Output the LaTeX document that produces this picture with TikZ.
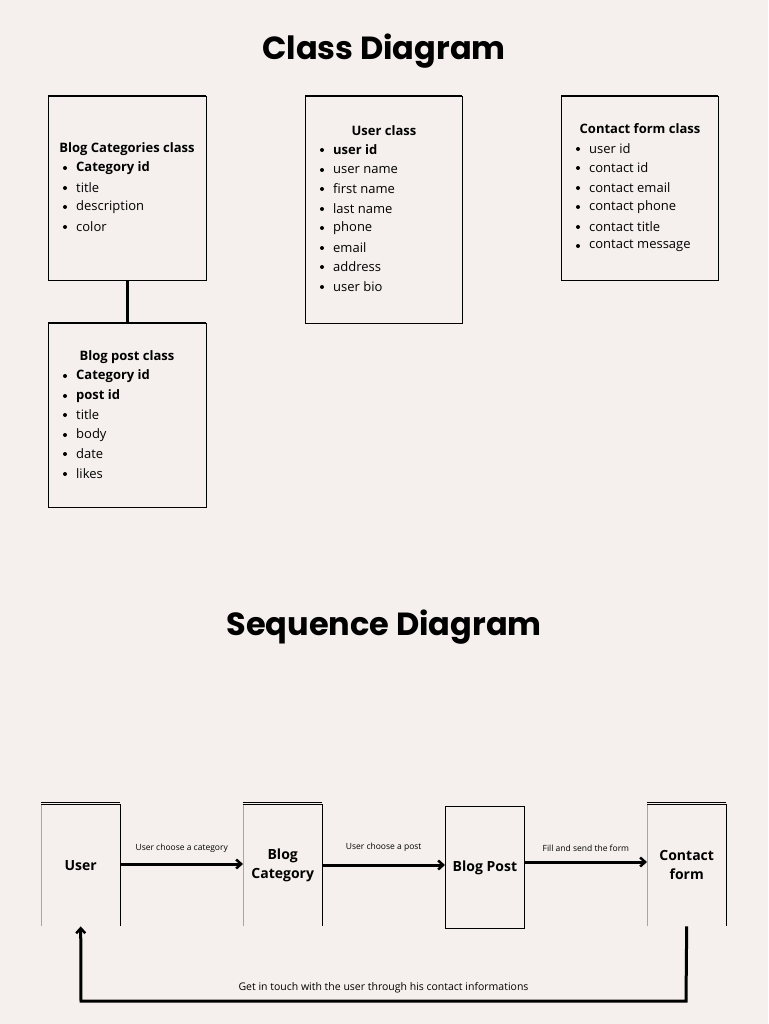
\documentclass[tikz,border=0pt]{standalone}
\usepackage{fontspec}
\setmainfont{Open Sans}
\newfontfamily\titlefont{Poppins}
\usetikzlibrary{arrows.meta}
\definecolor{bg}{HTML}{F5F0ED}
\tikzset{
  box/.style={draw=black, line width=0.6pt},
  topline/.style={line width=2pt},
  ttl/.style={font=\titlefont\bfseries\fontsize{32}{36}\selectfont},
  head/.style={font=\bfseries\fontsize{13}{15}\selectfont},
  item/.style={anchor=west, font=\fontsize{13}{15}\selectfont, inner sep=0pt},
  bitem/.style={item, font=\bfseries\fontsize{13}{15}\selectfont},
  bul/.style={circle, fill=black, inner sep=0pt, minimum size=4pt},
  seqlbl/.style={font=\bfseries\fontsize{14}{16}\selectfont, align=center},
  small/.style={font=\fontsize{8.5}{10}\selectfont},
  conn/.style={line width=3pt, -{Straight Barb[length=5pt,width=9pt,line width=2.5pt]}},
}
\begin{document}
\begin{tikzpicture}[x=1pt,y=-1pt]
\fill[bg] (0,0) rectangle (768,1024);
\useasboundingbox (0,0) rectangle (768,1024);
\node[ttl] (t1) at (384,51) {Class Diagram};
\node[ttl] (t2) at (384,627) {Sequence Diagram};
% class boxes
\newcommand\clsbox[5]{% name x1 y1 x2 y2
  \node[box, minimum width={#4-#2}, minimum height={#5-#3}, inner sep=0pt, anchor=north west] (#1) at (#2,#3) {};
  \draw[topline] (#2,#3) -- (#4,#3);}
\newcommand\itm[4]{% name x y style, then text
  \node[bul] (#1b) at (#2,#3) {};
  \node[#4] (#1) at ({#2+11},#3) }
\clsbox{bc}{48}{96}{206}{280}
\node[head] (bch) at (127,149) {Blog Categories class};
\itm{bc1}{65}{168}{bitem}{Category id};
\itm{bc2}{65}{188}{item}{title};
\itm{bc3}{65}{207}{item}{description};
\itm{bc4}{65}{227}{item}{color};

\clsbox{uc}{305}{96}{462}{323}
\node[head] (uch) at (384,131) {User class};
\itm{u1}{322}{150}{bitem}{user id};
\itm{u2}{322}{170}{item}{user name};
\itm{u3}{322}{189}{item}{first name};
\itm{u4}{322}{209}{item}{last name};
\itm{u5}{322}{228}{item}{phone};
\itm{u6}{322}{248}{item}{email};
\itm{u7}{322}{267}{item}{address};
\itm{u8}{322}{287}{item}{user bio};

\clsbox{cf}{561}{96}{718}{280}
\node[head] (cfh) at (640,129) {Contact form class};
\itm{c1}{578}{149}{item}{user id};
\itm{c2}{578}{168}{item}{contact id};
\itm{c3}{578}{188}{item}{contact email};
\itm{c4}{578}{207}{item}{contact phone};
\itm{c5}{578}{227}{item}{contact title};
\itm{c6}{578}{246}{item}{contact message};

\clsbox{bp}{48}{323}{206}{507}
\node[head] (bph) at (127,357) {Blog post class};
\itm{p1}{65}{376}{bitem}{Category id};
\itm{p2}{65}{396}{bitem}{post id};
\itm{p3}{65}{415}{item}{title};
\itm{p4}{65}{435}{item}{body};
\itm{p5}{65}{454}{item}{date};
\itm{p6}{65}{474}{item}{likes};

\draw[line width=2.5pt] (bc.south) -- (bp.north);

% sequence boxes
\newcommand\seqbox[4]{% name x1 y1 label
  \node[seqlbl, minimum width=79, minimum height=122, anchor=north west, inner sep=0pt] (#1) at (#2,#3) {#4};
  \draw[gray!70, line width=0.6pt] (#1.south west) -- (#1.north west);
  \draw[line width=0.8pt] (#1.north west) -- (#1.north east) -- (#1.south east);}
\seqbox{su}{41}{804}{User}
\seqbox{sc}{243}{804}{Blog\\[3pt]Category}
\node[seqlbl, draw, line width=0.8pt, minimum width=79, minimum height=122, anchor=north west, inner sep=0pt] (sp) at (445,806) {Blog Post};
\seqbox{sf}{647}{804}{Contact\\[3pt]form}
\draw[line width=0.8pt] (41,802) -- (120,802) (243,802) -- (322,802) (647,802) -- (726,802);

\draw[conn] (su.east |- 0,864) -- node[small, above=7pt] {User choose a category} (sc.west |- 0,864);
\draw[conn] (sc.east |- 0,865) -- node[small, above=9pt] {User choose a post} (sp.west |- 0,865);
\draw[conn] (sp.east |- 0,862) -- node[small, above=6pt] {Fill and send the form} (sf.west |- 0,862);
\coordinate (r1) at (686,1001);
\coordinate (r2) at (81,1001);
\draw[conn] (sf.south) -- (r1) -- node[above=3pt, font=\fontsize{10.5}{12}\selectfont] {Get in touch with the user through his contact informations} (r2) -- (su.south);
\end{tikzpicture}
\end{document}
